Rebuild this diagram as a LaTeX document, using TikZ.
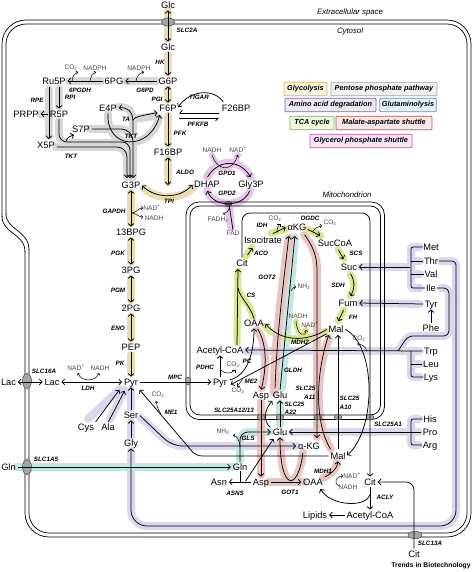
\documentclass[tikz,border=0pt]{standalone}
\usepackage{fontspec}
\setmainfont{Liberation Sans}
\usetikzlibrary{arrows.meta}
\definecolor{glyB}{RGB}{231,221,176}
\definecolor{pppB}{RGB}{215,215,215}
\definecolor{aaB}{RGB}{219,215,238}
\definecolor{glnB}{RGB}{196,230,228}
\definecolor{tcaB}{RGB}{214,232,146}
\definecolor{masB}{RGB}{234,198,194}
\definecolor{gpsB}{RGB}{230,198,232}
\definecolor{glyD}{RGB}{234,168,72}
\definecolor{glyF}{RGB}{252,245,226}
\definecolor{pppD}{RGB}{165,165,165}
\definecolor{pppF}{RGB}{240,240,240}
\definecolor{aaD}{RGB}{125,105,172}
\definecolor{aaF}{RGB}{236,233,247}
\definecolor{glnD}{RGB}{95,150,200}
\definecolor{glnF}{RGB}{226,241,248}
\definecolor{tcaD}{RGB}{122,180,84}
\definecolor{tcaF}{RGB}{239,247,226}
\definecolor{masD}{RGB}{192,80,80}
\definecolor{masF}{RGB}{248,231,231}
\definecolor{gpsD}{RGB}{200,80,170}
\definecolor{gpsF}{RGB}{248,230,245}
\definecolor{ovalF}{RGB}{165,165,165}
\begin{document}
\begin{tikzpicture}[x=1pt,y=-1pt,
  >={Straight Barb[length=2.6pt,width=5.6pt]},
  metab/.style={font=\fontsize{9.3}{10}\selectfont, inner sep=0.8pt, text height=6.7pt, text depth=0pt},
  enz/.style={font=\bfseries\itshape\fontsize{6.3}{7}\selectfont, inner sep=0.5pt},
  cof/.style={font=\fontsize{6.6}{7}\selectfont, text=black!72, inner sep=0.5pt},
  lab/.style={font=\itshape\fontsize{7.8}{9}\selectfont, inner sep=0.5pt},
  leg/.style={font=\bfseries\itshape\fontsize{7.3}{8}\selectfont, rounded corners=1pt, line width=0.8pt, inner xsep=2pt, text height=5.4pt, text depth=1.6pt, minimum height=11pt},
  ar/.style={line width=0.75pt, ->, shorten >=1pt, shorten <=1pt},
  dar/.style={line width=0.75pt, <->, shorten >=1pt, shorten <=1pt},
  ln/.style={line width=0.75pt},
  sar/.style={line width=0.5pt, -{Straight Barb[length=1.7pt,width=3.4pt]}},
  dsar/.style={line width=0.5pt, {Straight Barb[length=1.7pt,width=3.4pt]}-{Straight Barb[length=1.7pt,width=3.4pt]}},
  hup/.style={line width=0.75pt, -{Straight Barb[length=2.6pt,width=5.6pt,harpoon,swap]}},
  bnd/.style={line width=8pt, line cap=round, line join=round},
  memb/.style={line width=0.7pt},
  oval/.style={fill=ovalF, draw=black!70, line width=0.5pt}
]
\useasboundingbox (0,0) rectangle (474,572);

% ---------------- bands ----------------
% glycolysis
\draw[bnd,glyB] (168,11)--(168,39) (168,55)--(168,73) (168,89)--(168,100) (168,116)--(168,144) (168,159)--(168,183)
  (131,193)--(131,223) (131,241)--(131,262) (131,279)--(131,300) (131,317)--(131,338) (131,355)--(131,373);
\draw[bnd,glyB] (144,188) .. controls (156,200) and (180,200) .. (193,188);
% PPP
\draw[bnd,pppB] (156,81)--(126,81) (101,81)--(69,81) (49,89)--(49,136) (59,89)--(59,106) (49,114)--(40,114);
\draw[bnd,pppB,rounded corners=9pt] (59,121)--(59,143)--(130,143)--(130,177);
\draw[bnd,pppB,rounded corners=11pt] (56,147)--(127,147)--(127,177);
\draw[bnd,pppB,rounded corners=13pt] (90,129)--(133,129)--(133,177);
\draw[bnd,pppB] (108,114) .. controls (106,150) and (150,152) .. (159,118);
\draw[bnd,pppB] (133,135)--(133,122) .. controls (133,110) and (128,107) .. (118,107);
\draw[bnd,pppB] (134,119) -- (155,116);
% amino acid degradation
\draw[bnd,aaB] (88,419)--(120,389) (110,419)--(125,390) (131,408)--(131,390) (131,437)--(131,422);
\draw[bnd,aaB,rounded corners=10pt] (141,418)--(172,446)--(297,446);
\draw[bnd,aaB,rounded corners=4pt] (441,261)--(456,261)--(456,300);
\draw[bnd,aaB,rounded corners=16pt] (456,298)--(456,526)--(131,526)--(131,451);
\draw[bnd,aaB,rounded corners=5pt] (441,288)--(449,288)--(449,336)--(408,336)--(398,351);
\draw[bnd,aaB,rounded corners=2pt] (420,247)--(411,247)--(411,288)--(420,288);
\draw[bnd,aaB] (411,261)--(420,261) (411,274)--(420,274) (411,267)--(361,267) (420,304)--(360,303);
\draw[bnd,aaB,rounded corners=2pt] (420,351)--(411,351)--(411,377)--(420,377);
\draw[bnd,aaB] (411,364)--(420,364) (411,351)--(246,351);
\draw[bnd,aaB,rounded corners=2pt] (419,419)--(411,419)--(411,445)--(419,445);
\draw[bnd,aaB] (419,432)--(292,432);
% glutaminolysis
\draw[bnd,glnB] (17,467)--(233,467) (280,425)--(280,403) (282,388)--(295,237);
\draw[bnd,glnB,rounded corners=8pt] (240,460)--(240,432)--(270,432);
% TCA
\draw[bnd,tcaB,line width=7pt] (237,343)--(238,271) (246,256)--(252,247) (271,233)--(286,229) (308,229)--(321,236) (338,249)--(344,259) (344,310)--(338,321);
\draw[bnd,tcaB,line width=7pt] (253,317) .. controls (250,303) and (240,298) .. (238,288);
\draw[bnd,tcaB,line width=7pt] (350,274) .. controls (355,281) and (355,288) .. (350,296);
\draw[bnd,tcaB,line width=7pt] (326,331) .. controls (305,343) and (280,341) .. (265,326);
\draw[bnd,tcaB,line width=6pt] (296,321) .. controls (297,337) and (306,337) .. (306,329);
% malate-aspartate shuttle
\draw[bnd,masB,line width=9pt] (289,238) .. controls (285,270) and (276,330) .. (274,392);
\draw[bnd,masB] (257,330) .. controls (268,345) and (266,370) .. (262,388);
\draw[bnd,masB] (261,402)--(261,475);
\draw[bnd,masB] (304,235) .. controls (312,245) and (317,255) .. (317,270) -- (317,437);
\draw[bnd,masB] (331,449) .. controls (316,425) and (314,380) .. (329,338);
\draw[bnd,masB] (268,482)--(303,482);
\draw[bnd,masB] (303,452) .. controls (298,492) and (280,492) .. (281,441);
\draw[bnd,masB] (323,478) .. controls (330,474) and (337,470) .. (337,462);
% glycerol phosphate shuttle
\draw[bnd,gpsB] (207,177) .. controls (218,158) and (240,158) .. (251,177);
\draw[bnd,gpsB,line width=6pt] (212,155) .. controls (218,172) and (232,172) .. (238,155);
\draw[bnd,gpsB] (250,191) .. controls (243,208) and (214,208) .. (207,191);
\draw[bnd,gpsB] (229,204)--(231,227);

% ---------------- membranes ----------------
\draw[memb,rounded corners=24pt] (2,217)--(2,20)--(471,20)--(471,537)--(25,537)--(25,251);
\draw[memb] (2,216) .. controls (2,234) and (25,233) .. (25,252);
\draw[memb,rounded corners=20pt] (6,215)--(6,24)--(467,24)--(467,533)--(29,533)--(29,249);
\draw[memb] (6,214) .. controls (6,230) and (29,230) .. (29,250);
\draw[memb,rounded corners=13pt] (186,202) rectangle (384.5,419.5);
\draw[memb,rounded corners=10pt] (190,206) rectangle (380.5,415);

% ---------------- transporters ----------------
\draw[oval] (168,22) ellipse [x radius=6.5pt, y radius=4pt];
\draw[oval] (27,381) ellipse [x radius=4.5pt, y radius=7.5pt];
\draw[oval] (27,467) ellipse [x radius=4.5pt, y radius=7.5pt];
\draw[oval] (415,535) ellipse [x radius=7pt, y radius=3.8pt];
\foreach \xx in {261,280,318,338,370} \draw[oval] (\xx,417.2) ellipse [x radius=3.8pt, y radius=2.8pt];
\draw[oval] (188,381) ellipse [x radius=2.8pt, y radius=4pt];
\draw[fill=black!60, draw=black!85, line width=0.4pt] (228.5,204) ellipse [x radius=3.5pt, y radius=2.5pt];

% ---------------- metabolites ----------------
\node[metab] (glcE) at (168,5) {Glc};
\node[metab] (glc) at (168,47) {Glc};
\node[metab] (g6p) at (168,81) {G6P};
\node[metab] (f6p) at (168,108) {F6P};
\node[metab] (f26) at (236,108) {F26BP};
\node[metab] (f16) at (168,152) {F16BP};
\node[metab] (g3p) at (131,185) {G3P};
\node[metab] (dhap) at (207,184) {DHAP};
\node[metab] (gly3p) at (251,184) {Gly3P};
\node[metab] (bpg) at (131,232) {13BPG};
\node[metab] (pg3) at (131,270) {3PG};
\node[metab] (pg2) at (131,308) {2PG};
\node[metab] (pep) at (131,347) {PEP};
\node[metab] (pyr) at (131,382) {Pyr};
\node[metab] (lac) at (52,382) {Lac};
\node[metab] (lacE) at (8.5,382) {Lac};
\node[metab] (cys) at (86,427) {Cys};
\node[metab] (ala) at (108,427) {Ala};
\node[metab] (ser) at (131,415) {Ser};
\node[metab] (gly) at (131,443) {Gly};
\node[metab] (glnE) at (8.5,467) {Gln};
\node[metab] (pg6) at (114,81) {6PG};
\node[metab] (ru5p) at (54,81) {Ru5P};
\node[metab] (r5p) at (59,114) {R5P};
\node[metab] (prpp) at (26,114) {PRPP};
\node[metab] (x5p) at (46,145) {X5P};
\node[metab] (s7p) at (81,129) {S7P};
\node[metab] (e4p) at (108,108) {E4P};
% mitochondrion
\node[metab] (pyrm) at (220,382) {Pyr};
\node[metab] (acm) at (220,350) {Acetyl-CoA};
\node[metab] (oaam) at (254,323) {OAA};
\node[metab] (citm) at (242,263) {Cit};
\node[metab] (iso) at (263,240) {Isocitrate};
\node[metab] (akgm) at (297,227) {αKG};
\node[metab] (sucoa) at (335,243) {SucCoA};
\node[metab] (suc) at (349,267) {Suc};
\node[metab] (fum) at (348,303) {Fum};
\node[metab] (malm) at (336,329) {Mal};
\node[metab] (aspm) at (261,395) {Asp};
\node[metab] (glum) at (280,395) {Glu};
% cytosol bottom
\node[metab] (gluc) at (280,432) {Glu};
\node[metab] (akgc) at (309,446) {α-KG};
\node[metab] (malc) at (338,456) {Mal};
\node[metab] (glnc) at (240,467) {Gln};
\node[metab] (asn) at (219,482) {Asn};
\node[metab] (aspc) at (261,482) {Asp};
\node[metab] (oaac) at (313,482) {OAA};
\node[metab] (citc) at (370,482) {Cit};
\node[metab] (lip) at (315,515) {Lipids};
\node[metab] (acc) at (370,515) {Acetyl-CoA};
\node[metab] (citE) at (414,554) {Cit};
% amino acids
\node[metab] (aMet) at (431,247) {Met};
\node[metab] (aThr) at (431,261) {Thr};
\node[metab] (aVal) at (431,274) {Val};
\node[metab] (aIle) at (431,288) {Ile};
\node[metab] (aTyr) at (431,304) {Tyr};
\node[metab] (aPhe) at (431,328) {Phe};
\node[metab] (aTrp) at (431,351) {Trp};
\node[metab] (aLeu) at (431,364) {Leu};
\node[metab] (aLys) at (431,377) {Lys};
\node[metab] (aHis) at (430,419) {His};
\node[metab] (aPro) at (430,432) {Pro};
\node[metab] (aArg) at (430,445) {Arg};

% ---------------- cofactors ----------------
\node[cof] (c1) at (71,68) {CO\textsubscript{2}};
\node[cof] (c2) at (95,68) {NADPH};
\node[cof] (c3) at (139,68) {NADPH};
\node[cof] (c4) at (152,208) {NAD\textsuperscript{+}};
\node[cof] (c5) at (154,218) {NADH};
\node[cof] (c6) at (212,150) {NADH};
\node[cof] (c7) at (238,150) {NAD\textsuperscript{+}};
\node[cof] (fadh) at (218,220) {FADH\textsubscript{2}};
\node[cof] (fad) at (233,233) {FAD};
\node[cof] (c8) at (76,368) {NAD\textsuperscript{+}};
\node[cof] (c9) at (100,368) {NADH};
\node[cof] (c10) at (158,395) {CO\textsubscript{2}};
\node[cof] (c11) at (233,365) {CO\textsubscript{2}};
\node[cof] (c12) at (238,391) {CO\textsubscript{2}};
\node[cof] (c13) at (304,287) {NH\textsubscript{3}};
\node[cof] (c14) at (275,219) {CO\textsubscript{2}};
\node[cof] (c15) at (330,223) {CO\textsubscript{2}};
\node[cof] (c16) at (298,316) {NADH};
\node[cof] (c17) at (310,325) {NAD\textsuperscript{+}};
\node[cof] (c18) at (359,339) {CO\textsubscript{2}};
\node[cof] (c19) at (223,432) {NH\textsubscript{3}};
\node[cof] (c20) at (352,476) {NAD\textsuperscript{+}};
\node[cof] (c21) at (348,487) {NADH};

% ---------------- enzymes ----------------
\node[enz] at (187,30) {SLC2A};
\node[enz] at (160,62) {HK};
\node[enz] at (157,99) {PGI};
\node[enz] at (180,133) {PFK};
\node[enz] at (199,97) {TIGAR};
\node[enz] at (198,124) {PFKFB};
\node[enz] at (185,172) {ALDO};
\node[enz] at (169,201) {TPI};
\node[enz] at (114,211) {GAPDH};
\node[enz] at (118,253) {PGK};
\node[enz] at (118,290) {PGM};
\node[enz] at (118,328) {ENO};
\node[enz] at (120,363) {PK};
\node[enz] at (80,90) {6PGDH};
\node[enz] at (145,90) {G6PD};
\node[enz] at (37,100) {RPE};
\node[enz] at (70,97) {RPI};
\node[enz] at (126,119) {TA};
\node[enz] at (131,136) {TKT};
\node[enz] at (71,156) {TKT};
\node[enz] at (227,173) {GPD1};
\node[enz] at (227,193) {GPD2};
\node[enz] at (44,371) {SLC16A};
\node[enz] at (88,388) {LDH};
\node[enz] at (46,459) {SLC1A5};
\node[enz] at (175,377) {MPC};
\node[enz] at (171,412) {ME1};
\node[enz] at (205,367) {PDHC};
\node[enz] at (247,361) {PC};
\node[enz] at (251,381) {ME2};
\node[enz] at (251,295) {CS};
\node[enz] at (261,253) {ACO};
\node[enz] at (262,225) {IDH};
\node[enz] at (310,218) {OGDC};
\node[enz] at (356,253) {SCS};
\node[enz] at (338,285) {SDH};
\node[enz] at (353,317) {FH};
\node[enz] at (300,342) {MDH2};
\node[enz] at (267,277) {GOT2};
\node[enz] at (293,370) {GLDH};
\node[enz] at (234,410) {SLC25A12/13};
\node[enz,anchor=west] at (284,404) {SLC25};
\node[enz,anchor=west] at (284,412) {A22};
\node[enz,anchor=east] at (316,388) {SLC25};
\node[enz,anchor=east] at (316,397) {A11};
\node[enz,anchor=west] at (339,398) {SLC25};
\node[enz,anchor=west] at (339,407) {A10};
\node[enz] at (388,424) {SLC25A1};
\node[enz] at (248,438) {GLS};
\node[enz] at (235,493) {ASNS};
\node[enz] at (290,492) {GOT1};
\node[enz] at (323,471) {MDH1};
\node[enz] at (385,497) {ACLY};
\node[enz] at (430,543) {SLC13A};

% ---------------- compartment labels and legend ----------------
\node[lab] at (350,12) {Extracellular space};
\node[lab] at (350,31) {Cytosol};
\node[lab] at (347,195) {Mitochondrion};
\node[leg, draw=glyD, fill=glyF, minimum width=43pt] at (305.5,89) {Glycolysis};
\node[leg, draw=pppD, fill=pppF, minimum width=106pt] at (384,89) {Pentose phosphate pathway};
\node[leg, draw=aaD, fill=aaF, minimum width=91pt] at (330.5,105) {Amino acid degradation};
\node[leg, draw=glnD, fill=glnF, minimum width=56pt] at (408,105) {Glutaminolysis};
\node[leg, draw=tcaD, fill=tcaF, minimum width=44pt] at (312,123) {TCA cycle};
\node[leg, draw=masD, fill=masF, minimum width=96pt] at (384,123) {Malate-aspartate shuttle};
\node[leg, draw=gpsD, fill=gpsF, minimum width=102pt] at (361,141) {Glycerol phosphate shuttle};
\node[font=\bfseries\fontsize{6.8}{8}\selectfont, inner sep=0pt] at (431,566) {Trends in Biotechnology};

% ---------------- glycolysis connectors ----------------
\draw[dar] (glcE.south) -- (glc.north);
\draw[ar] (glc.south) -- (g6p.north);
\draw[dar] (g6p.south) -- (f6p.north);
\draw[ar] (f6p.south) -- (f16.north);
\draw[dar] (f16.south) -- (168,186);
\draw[dar] (g3p.east) .. controls (156,199) and (180,199) .. (dhap.west);
\draw[dar] (g3p.south) -- (bpg.north);
\draw[dar] (bpg.south) -- (pg3.north);
\draw[dar] (pg3.south) -- (pg2.north);
\draw[dar] (pg2.south) -- (pep.north);
\draw[ar] (pep.south) -- (pyr.north);
\draw[sar] (132,213) .. controls (136,213) and (138,208) .. (143,208);
\draw[sar] (132,213) .. controls (136,213) and (138,217) .. (143,217);
\draw[ar] (224,103) .. controls (214,88) and (190,90) .. (f6p.east);
\draw[hup] (219,113) -- (179,113);
\draw[hup] (179,118) -- (219,118);

% ---------------- PPP connectors ----------------
\draw[ar] (g6p.west) -- (pg6.east);
\draw[sar] (136,81) .. controls (137,75) and (140,73) .. (144,72);
\draw[ar] (pg6.west) -- (ru5p.east);
\draw[sar] (72,81) .. controls (73,75) and (75,73) .. (78,72);
\draw[sar] (90,81) .. controls (91,75) and (93,73) .. (96,72);
\draw[ar] (49,86) -- (49,140);
\draw[ar] (59,86) -- (r5p.north);
\draw[ar] (r5p.west) -- (prpp.east);
\draw[ar, rounded corners=8pt] (r5p.south) -- (59,142) -- (130,142) -- (130,179);
\draw[ar, rounded corners=10pt] ([yshift=-2pt]x5p.east) -- (127,147) -- (127,179);
\draw[ar, rounded corners=12pt] (s7p.east) -- (133,129) -- (133,179);
\draw[ar] (66,142) .. controls (67,137) and (71,136) .. (75,134.5);
\draw[ar] (133,136) -- (133,122) .. controls (133,111) and (127,107) .. (e4p.east);
\draw[ar] (133,121) .. controls (134,117) and (140,116) .. (f6p.south west);
\draw[ar] (e4p.south) .. controls (106,150) and (150,152) .. (160,114);

% ---------------- glycerol phosphate shuttle ----------------
\draw[ar] (207,178) .. controls (218,159) and (240,159) .. (251,178);
\draw[sar] (212,155) .. controls (218,172) and (232,172) .. (238,155);
\draw[ar] (250,190) .. controls (243,208) and (214,208) .. (207,190);
\draw[ln] (fad.north) -- (229,204);
\draw[sar] (229.5,208) .. controls (228,212) and (226,213) .. (223,214);

% ---------------- lactate, pyruvate inputs ----------------
\draw[dar] (lacE.east) -- (lac.west);
\draw[dar] (lac.east) -- (pyr.west);
\draw[dsar] (78,373) .. controls (81,382) and (96,382) .. (99,373);
\draw[ar] (cys.north east) -- (120,389);
\draw[ar] (ala.north) -- (125,390);
\draw[ar] (ser.north) -- (pyr.south);
\draw[ar] (gly.north) -- (ser.south);
\draw[ar, rounded corners=10pt] (ser.east) -- (172,446) -- (akgc.west);
\draw[ar, rounded corners=6pt] (malc.west) -- (196,456) -- (139,389);
\draw[sar] (161,414) .. controls (158,410) and (157,406) .. (156,401);
\draw[ar] (glnE.east) -- (glnc.west);

% ---------------- amino acids ----------------
\draw[ln, rounded corners=4pt] (aThr.east) -- (456,261) -- (456,300);
\draw[ar, rounded corners=16pt] (456,299) -- (456,526) -- (131,526) -- (gly.south);
\draw[ln, rounded corners=5pt] (aIle.east) -- (449,288) -- (449,336) -- (408,336) -- (398,351);
\draw[ln, rounded corners=2pt] (aMet.west) -- (411,247) -- (411,288) -- (aIle.west);
\draw[ln] (411,261) -- (aThr.west) (411,274) -- (aVal.west);
\draw[ar] (411,267) -- (suc.east);
\draw[ar] (aTyr.west) -- (fum.east);
\draw[ar] (aPhe.north) -- (aTyr.south);
\draw[ln, rounded corners=2pt] (411,351) -- (411,377) -- (aLys.west);
\draw[ln] (411,364) -- (aLeu.west);
\draw[ar] (aTrp.west) -- (acm.east);
\draw[sar] (367,351) .. controls (365,346) and (362,344) .. (357,344);
\draw[ln, rounded corners=2pt] (aHis.west) -- (411,419) -- (411,445) -- (aArg.west);
\draw[ar] (aPro.west) -- (gluc.east);

% ---------------- mitochondrion ----------------
\draw[ar] (pyr.east) -- (pyrm.west);
\draw[ar] (pyrm.north) -- (acm.south);
\draw[sar] (220.5,370) .. controls (225,374) and (231,374) .. (235,370);
\draw[ar] (229,380) .. controls (246,376) and (254,356) .. (oaam.south);
\draw[ar] (malm.south west) -- (230,385);
\draw[sar] (243,378) .. controls (241,382) and (239,384) .. (237,386);
\draw[ar] (237,346) -- (238,268);
\draw[ln] (oaam.north) .. controls (250,305) and (240,298) .. (238,288);
\draw[ar] (247,256) -- (253,247);
\draw[ar] (272,234) -- (akgm.west);
\draw[sar] (277,232.5) .. controls (277,228) and (278,226) .. (280,224);
\draw[ar] (307,229) -- (321,236);
\draw[sar] (313,231.5) .. controls (315,228) and (318,226) .. (322,226);
\draw[ar] (338,249) -- (344,260);
\draw[ar] (350,273) .. controls (355,281) and (355,288) .. (350,297);
\draw[ar] (344,309) -- (338,322);
\draw[ar] (malm.west) .. controls (305,343) and (280,341) .. (oaam.east);
\draw[sar] (296,321) .. controls (297,337) and (306,337) .. (306,330);
\draw[ar] (275,389) .. controls (277,330) and (285,270) .. (289,235);
\draw[ar] (257,328) .. controls (268,345) and (266,370) .. (aspm.north);
\draw[ar] (glum.north) -- (295,235);
\draw[sar] (291,291) .. controls (292,288) and (294,287) .. (296,287);
\draw[ar] (304,234) .. controls (312,245) and (317,255) .. (317,270) -- (317,439);
\draw[ar] (331,450) .. controls (316,425) and (314,380) .. (329,334);
\draw[ar] (338,450) -- (338,334);
\draw[ar] (malm.east) .. controls (376,345) and (377,428) .. (malc.east);
\draw[ar, rounded corners=8pt] (citm.north) -- (242,213) -- (370,213) -- (citc.north);

% ---------------- cytosol bottom ----------------
\draw[ar] (aspm.south) -- (aspc.north);
\draw[ar] (271,428) .. controls (263,421) and (264,410) .. (273,400);
\draw[ar] (gluc.north) -- (glum.south);
\draw[ar, rounded corners=8pt] (glnc.north) -- (240,432) -- (gluc.west);
\draw[sar] (240,447) .. controls (240,441) and (237,436) .. (233,435);
\draw[ar] (aspc.west) -- (asn.east);
\draw[ln] (glnc.south) -- (240,482);
\draw[ar] (245,482) -- (274,438);
\draw[ar] (aspc.east) -- (oaac.west);
\draw[ar] (303,452) .. controls (298,492) and (280,492) .. (gluc.south);
\draw[ar] (oaac.north east) .. controls (330,474) and (337,470) .. (malc.south);
\draw[sar] (339,486) .. controls (333,483) and (336,476) .. (343,476);
\draw[ar] (citc.south) -- (acc.north);
\draw[ar] (370,494) .. controls (366,508) and (330,506) .. (320,488);
\draw[ar, rounded corners=8pt] (citE.north) -- (414,482) -- (citc.east);
\draw[ar] (acc.west) -- (lip.east);
\end{tikzpicture}
\end{document}
